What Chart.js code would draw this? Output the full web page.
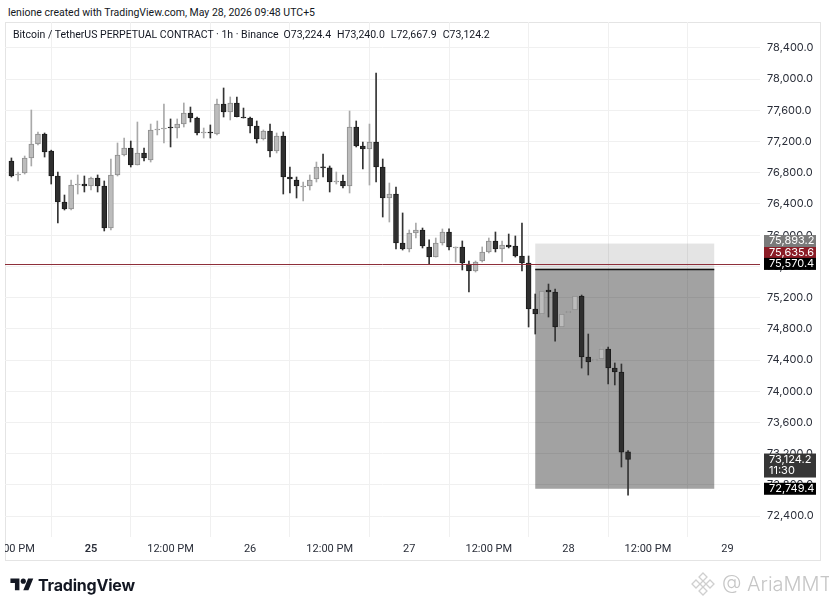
<!DOCTYPE html>
<html>
<head>
<meta charset="utf-8">
<script src="https://cdn.jsdelivr.net/npm/chart.js@4.4.1/dist/chart.umd.min.js"></script>
<style>
  html, body { margin: 0; padding: 0; background: #fff; }
  body { width: 829px; height: 609px; position: relative; overflow: hidden;
         font-family: Inter, "Noto Sans", sans-serif; color: #131722; }
  #credit { position: absolute; left: 8px; top: 6px; font: 10.5px Roboto, sans-serif; white-space: nowrap; }
  #frame { position: absolute; left: 5px; top: 22px; width: 816px; height: 539px;
           box-sizing: border-box; border: 1px solid #e4e4e4; }
  #legend { position: absolute; left: 13px; top: 28px; font: 10.5px Roboto, sans-serif; white-space: nowrap; }
  #legend .v { margin-left: 6px; }
  #chart { position: absolute; left: 0; top: 0; }
  #brand { position: absolute; left: 10px; top: 575px; display: flex; align-items: center; }
  #brand b { font-size: 16px; font-weight: 700; margin-left: 4px; letter-spacing: -0.2px; }
  #mark { position: absolute; left: 690px; top: 571px; display: flex; align-items: center;
          color: #c6c6c6; font-size: 20px; font-weight: 300; white-space: nowrap; }
</style>
</head>
<body>
<div id="credit">lenione created with TradingView.com, May 28, 2026 09:48 UTC+5</div>
<div id="frame"></div>
<canvas id="chart" width="829" height="609"></canvas>
<div id="legend">Bitcoin / TetherUS PERPETUAL CONTRACT · 1h · Binance<span class="v" id="o" style="margin-left:5px"></span><span class="v" id="h"></span><span class="v" id="l"></span><span class="v" id="c"></span></div>
<div id="brand">
  <svg width="24" height="18" viewBox="0 0 36 28"><path d="M14 22H7V11H0V4h14v18zM28 22h-8l7.5-18h8L28 22z" fill="#131722"/><circle cx="20" cy="8" r="4" fill="#131722"/></svg>
  <b>TradingView</b>
</div>
<div id="mark">
  <svg width="26" height="26" viewBox="0 0 26 26" fill="none" stroke="#cfcfcf" stroke-width="1.3">
    <path d="M13 2l4 4-4 4-4-4z"/><path d="M6 9l4 4-4 4-4-4z"/><path d="M20 9l4 4-4 4-4-4z"/><path d="M13 16l4 4-4 4-4-4z"/><path d="M13 10l3 3-3 3-3-3z"/>
  </svg>
  <span style="margin-left:6px">@ AriaMMT</span>
</div>
<script>
// hourly candles, hour 0 = 25 May 00:00 (UTC+5), first bar at 24 May 12:00
const START_HOUR = -12;

const opens = [
  76951, 76772, 76797, 76990, 77169, 77297, 77079, 76759, 76426, 76336,
  76644, 76656, 76631, 76733, 76631, 76092, 76772, 77028, 77118, 76900,
  77054, 76964, 77349, 77361, 77387, 77374, 77425, 77567, 77502, 77310,
  77323, 77297, 77682, 77579, 77695, 77515, 77502, 77400, 77233, 77336,
  77079, 77272, 76746, 76708, 76618, 76631, 76720, 76874, 76862, 76682,
  76690, 76631, 77387, 77143, 77105, 77195, 76874, 76477, 76528, 75900,
  75823, 76028, 76067, 75849, 75720, 75900, 76041, 75836, 75849, 75631,
  75541, 75669, 75785, 75926, 75823, 75874, 75862, 75733, 75643, 75054,
  74990, 75297, 75272, 74823, 75003, 75041, 75220, 74438, 74387, 74413,
  74541, 74298, 74246, 73224.4
];
const highs = [
  76990, 76810, 77015, 77605, 77323, 77310, 77090, 76810, 76515, 76708,
  76772, 76759, 76746, 76772, 76695, 76977, 77182, 77246, 77207, 77451,
  77118, 77425, 77464, 77682, 77490, 77490, 77695, 77643, 77515, 77374,
  77413, 77746, 77887, 77772, 77772, 77630, 77515, 77464, 77349, 77425,
  77310, 77323, 76874, 76746, 76682, 76772, 76938, 77041, 76887, 76810,
  76772, 77592, 77464, 77195, 77425, 78079, 76977, 76669, 76618, 76285,
  76067, 76156, 76092, 75939, 75964, 76080, 76080, 75849, 75926, 75669,
  75669, 75849, 75964, 76041, 75926, 76015, 75990, 76156, 75733, 75246,
  75285, 75374, 75310, 74990, 75028, 75220, 75233, 74733, 74413, 74567,
  74567, 74362, 74349, 73240.0
];
const lows = [
  76746, 76695, 76784, 76887, 77156, 77002, 76656, 76156, 76323, 76323,
  76528, 76554, 76579, 76554, 76054, 76067, 76759, 77015, 76874, 76900,
  76951, 76938, 77285, 77182, 77131, 77246, 77387, 77451, 77285, 77246,
  77246, 77285, 77515, 77477, 77515, 77502, 77310, 77182, 77220, 77002,
  77054, 76528, 76541, 76477, 76438, 76579, 76682, 76746, 76554, 76656,
  76605, 76541, 77131, 76849, 76643, 76682, 76233, 76169, 75823, 75810,
  75785, 75964, 75836, 75631, 75720, 75874, 75810, 75656, 75554, 75272,
  75528, 75656, 75772, 75785, 75656, 75836, 75720, 75541, 74823, 74733,
  74977, 74951, 74643, 74823, 75003, 75041, 74297, 74208, 74387, 74413,
  74092, 74080, 73028, 72667.9
];
const closes = [
  76759, 76784, 76990, 77169, 77297, 77066, 76759, 76426, 76336, 76644,
  76656, 76631, 76733, 76631, 76092, 76772, 77028, 77118, 76900, 77054,
  76990, 77349, 77361, 77374, 77374, 77425, 77567, 77502, 77310, 77323,
  77310, 77682, 77579, 77695, 77520, 77502, 77400, 77233, 77336, 77079,
  77272, 76746, 76720, 76631, 76631, 76708, 76874, 76862, 76682, 76695,
  76631, 77387, 77143, 77105, 77195, 76874, 76477, 76528, 75900, 75823,
  76028, 76067, 75862, 75720, 75900, 76041, 75849, 75849, 75643, 75541,
  75656, 75785, 75926, 75823, 75874, 75849, 75733, 75643, 75054, 74990,
  75285, 75272, 74823, 74990, 75028, 75220, 74438, 74374, 74413, 74541,
  74298, 74246, 73220, 73124.2
];

// axis ticks
const xTicks = [-12, 0, 12, 24, 36, 48, 60, 72, 84, 96];
const xTickLabels = ['12:00 PM', '25', '12:00 PM', '26', '12:00 PM', '27', '12:00 PM', '28', '12:00 PM', '29'];
const xBoldTicks = ['25'];
const yTicks = [72400, 72800, 73200, 73600, 74000, 74400, 74800, 75200, 75600, 76000,
                76400, 76800, 77200, 77600, 78000, 78400];

// drawings: short position + horizontal line
const BOX_START = 67, BOX_END = 94;
const STOP = 75893.2, ENTRY = 75570.4, TARGET = 72749.4;
const HLINE = 75635.6;
const COUNTDOWN = '11:30';

const X_MIN = -12.97, X_MAX = 100.9;
const Y_MIN = 72131, Y_MAX = 78733;

const hours = opens.map((_, i) => START_HOUR + i);
const isUp = opens.map((o, i) => closes[i] >= o);

const fmt = v => v.toLocaleString('en-US', { minimumFractionDigits: 1, maximumFractionDigits: 1 });
const last = opens.length - 1;
document.getElementById('o').textContent = 'O' + fmt(opens[last]);
document.getElementById('h').textContent = 'H' + fmt(highs[last]);
document.getElementById('l').textContent = 'L' + fmt(lows[last]);
document.getElementById('c').textContent = 'C' + fmt(closes[last]);

const FONT = '11px Inter, "Noto Sans", sans-serif';
const XFONT = '11px Roboto, sans-serif';

const drawings = {
  id: 'drawings',
  beforeDatasetsDraw(chart) {
    const { ctx, scales: { x, y } } = chart;
    const x0 = x.getPixelForValue(BOX_START), x1 = x.getPixelForValue(BOX_END);
    const ys = y.getPixelForValue(STOP), ye = y.getPixelForValue(ENTRY), yt = y.getPixelForValue(TARGET);
    ctx.save();
    ctx.fillStyle = 'rgba(0,0,0,0.105)';
    ctx.fillRect(x0, ys, x1 - x0, ye - ys);
    ctx.fillStyle = 'rgba(0,0,0,0.365)';
    ctx.fillRect(x0, ye, x1 - x0, yt - ye);
    ctx.restore();
  },
  afterDatasetsDraw(chart) {
    const { ctx, chartArea: a, scales: { x, y } } = chart;
    ctx.save();
    // entry line
    const ye = Math.round(y.getPixelForValue(ENTRY)) + 0.5;
    ctx.strokeStyle = '#111';
    ctx.lineWidth = 1.5;
    ctx.beginPath();
    ctx.moveTo(x.getPixelForValue(BOX_START), ye);
    ctx.lineTo(x.getPixelForValue(BOX_END), ye);
    ctx.stroke();
    // horizontal line
    const yh = Math.round(y.getPixelForValue(HLINE)) + 0.5;
    ctx.strokeStyle = '#8e2f3a';
    ctx.lineWidth = 1;
    ctx.beginPath();
    ctx.moveTo(a.left, yh);
    ctx.lineTo(a.right, yh);
    ctx.stroke();
    ctx.restore();
  },
  afterDraw(chart) {
    const { ctx, chartArea: a, scales: { x, y } } = chart;
    ctx.save();
    ctx.font = FONT;
    ctx.textBaseline = 'middle';
    // price axis
    ctx.fillStyle = '#2a2e39';
    ctx.textAlign = 'left';
    yTicks.forEach(v => ctx.fillText(fmt(v), a.right + 7, y.getPixelForValue(v)));
    // time axis, clipped at the pane's left border
    ctx.beginPath();
    ctx.rect(a.left, a.bottom, a.right - a.left, 24);
    ctx.clip();
    ctx.textAlign = 'center';
    xTicks.forEach((v, i) => {
      const t = xTickLabels[i];
      ctx.font = (xBoldTicks.includes(t) ? '600 ' : '') + XFONT;
      ctx.fillText(t, x.getPixelForValue(v), a.bottom + 12);
    });
    ctx.restore();

    // price tags
    ctx.save();
    ctx.font = FONT;
    ctx.textBaseline = 'middle';
    const tag = (v, bg, dy, lines) => {
      const cy = y.getPixelForValue(v) + dy;
      ctx.fillStyle = bg;
      ctx.fillRect(a.right + 4, cy - 6, 52, 12 * lines.length);
      ctx.fillStyle = '#fff';
      lines.forEach((t, i) => ctx.fillText(t, a.right + 9, cy + i * 11.5));
    };
    tag(STOP, '#7a7a7a', -2.5, [fmt(STOP)]);
    tag(HLINE, '#8b1c26', -10.6, [fmt(HLINE)]);
    tag(ENTRY, '#000', -4.8, [fmt(ENTRY)]);
    tag(closes[last], '#363636', 0, [fmt(closes[last]), COUNTDOWN]);
    tag(TARGET, '#000', 0, [fmt(TARGET)]);
    ctx.restore();
  }
};

new Chart(document.getElementById('chart'), {
  type: 'bar',
  data: {
    datasets: [
      {
        label: 'body',
        order: 0,
        data: hours.map((h, i) => ({ x: h, y: [opens[i], closes[i]] })),
        backgroundColor: isUp.map(u => u ? '#bcbcbc' : '#2f2f2f'),
        borderColor: isUp.map(u => u ? '#8e8e8e' : '#1c1c1c'),
        borderWidth: 1,
        borderSkipped: false,
        barThickness: 5,
        minBarLength: 1,
        grouped: false,
      },
      {
        label: 'wick',
        order: 1,
        data: hours.map((h, i) => ({ x: h, y: [lows[i], highs[i]] })),
        backgroundColor: isUp.map(u => u ? '#a9a9a9' : '#333333'),
        borderWidth: 0,
        barThickness: 1,
        grouped: false,
      }
    ]
  },
  options: {
    responsive: false,
    animation: false,
    devicePixelRatio: 1,
    layout: { padding: { left: 5, top: 22, right: 69, bottom: 72 } },
    plugins: { legend: { display: false }, tooltip: { enabled: false } },
    scales: {
      x: {
        type: 'linear', min: X_MIN, max: X_MAX, offset: false,
        grid: { color: '#f0f0f0', drawTicks: false },
        border: { display: false },
        ticks: { display: false },
        afterBuildTicks: s => { s.ticks = xTicks.map(v => ({ value: v })); }
      },
      y: {
        type: 'linear', position: 'right', min: Y_MIN, max: Y_MAX,
        grid: { color: '#f0f0f0', drawTicks: false },
        border: { display: false },
        ticks: { display: false },
        afterBuildTicks: s => { s.ticks = yTicks.map(v => ({ value: v })); }
      }
    }
  },
  plugins: [drawings]
});
</script>
</body>
</html>
